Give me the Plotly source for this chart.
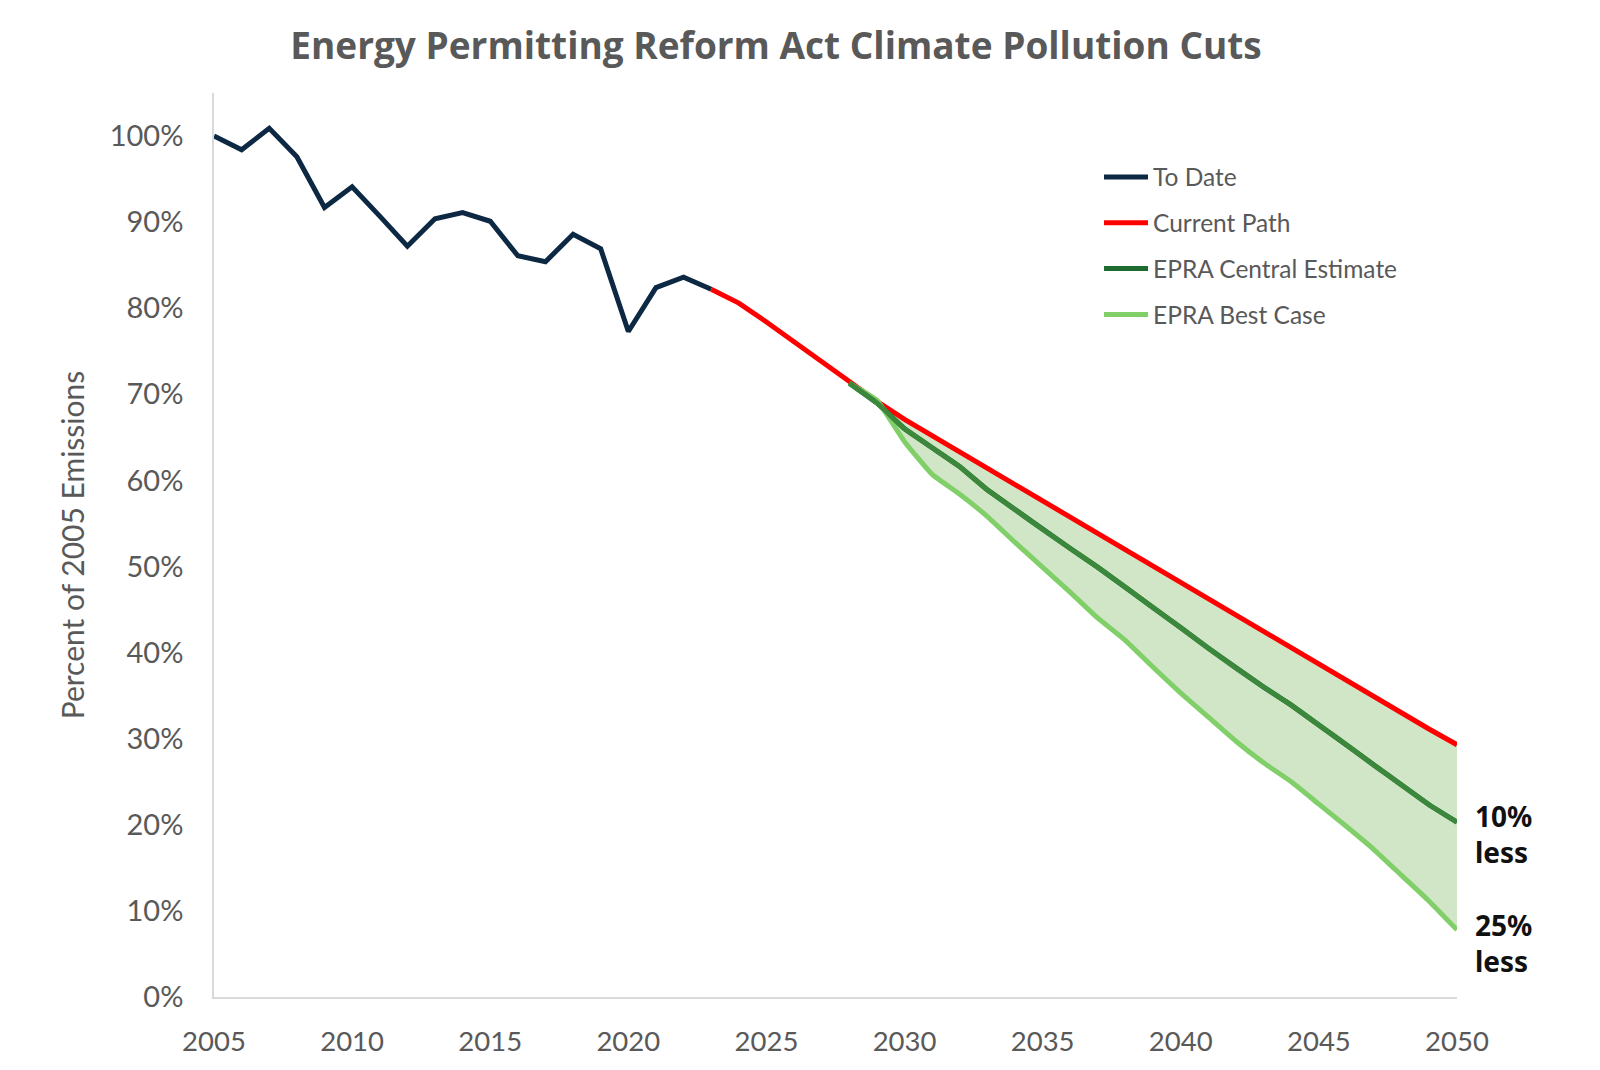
import plotly.graph_objects as go

# ---- data ----
years_hist = list(range(2005, 2024))
to_date = [100.0, 98.4, 100.9, 97.6, 91.7, 94.1, 90.7, 87.2, 90.4, 91.1,
           90.1, 86.1, 85.4, 88.6, 86.9, 77.3, 82.4, 83.6, 82.2]

years_path = list(range(2023, 2051))
current_path = [82.2, 80.6, 78.4, 76.1, 73.8, 71.5, 69.2, 67.1, 65.2, 63.3,
                61.4, 59.5, 57.6, 55.7, 53.8, 51.9, 50.0, 48.1, 46.2, 44.3,
                42.4, 40.5, 38.6, 36.7, 34.8, 32.9, 31.1, 29.3]

years_epra = list(range(2028, 2051))
central = [71.3, 69.0, 66.0, 63.8, 61.6, 58.9, 56.6, 54.3, 52.1, 49.9,
           47.6, 45.2, 42.9, 40.5, 38.2, 36.0, 33.9, 31.6, 29.3, 26.9,
           24.6, 22.3, 20.3]
best_case = [71.3, 69.3, 64.5, 60.7, 58.4, 55.8, 52.8, 49.9, 47.0, 44.0,
             41.4, 38.3, 35.3, 32.5, 29.7, 27.2, 25.0, 22.4, 19.8, 17.1,
             14.1, 11.1, 7.8]

y_ticks = [0, 10, 20, 30, 40, 50, 60, 70, 80, 90, 100]
x_ticks = [2005, 2010, 2015, 2020, 2025, 2030, 2035, 2040, 2045, 2050]

notes = [("10%<br>less", 18.9), ("25%<br>less", 6.3)]

GRAY = "#595959"
AXIS = "#d9d9d9"
FONT = "Lato, 'Source Sans Pro', 'Noto Sans', sans-serif"

def pct(vals):
    return [v / 100 for v in vals]

# path values on the EPRA years, for the shaded band
path_on_epra = [current_path[years_path.index(y)] for y in years_epra]

fig = go.Figure()

# shaded band (lower edge then upper edge)
fig.add_trace(go.Scatter(x=years_epra, y=pct(best_case), mode="lines",
                         line=dict(color="rgba(180,180,60,0.9)", width=1),
                         showlegend=False, hoverinfo="skip"))
fig.add_trace(go.Scatter(x=years_epra, y=pct(path_on_epra), mode="lines",
                         line=dict(color="rgba(220,140,40,0.9)", width=1),
                         fill="tonexty", fillcolor="rgba(190,220,175,0.7)",
                         showlegend=False, hoverinfo="skip"))

fig.add_trace(go.Scatter(x=years_hist, y=pct(to_date), mode="lines",
                         name="To Date", legendgroup="a",
                         line=dict(color="#0d2843", width=5)))
fig.add_trace(go.Scatter(x=years_path, y=pct(current_path), mode="lines",
                         name="Current Path", legendgroup="b",
                         line=dict(color="#ff0000", width=5)))
fig.add_trace(go.Scatter(x=years_epra, y=pct(central), mode="lines",
                         name="EPRA Central Estimate", legendgroup="c",
                         line=dict(color="#1f6b2f", width=5)))
fig.add_trace(go.Scatter(x=years_epra, y=pct(best_case), mode="lines",
                         name="EPRA Best Case", legendgroup="d",
                         line=dict(color="#80cf69", width=5, shape="spline",
                                   smoothing=0.4)))
# central estimate drawn on top of best case
fig.add_trace(go.Scatter(x=years_epra, y=pct(central), mode="lines",
                         showlegend=False, hoverinfo="skip",
                         line=dict(color="#3b873b", width=5, shape="spline",
                                   smoothing=0.4)))

for text, yv in notes:
    fig.add_annotation(x=1.013, xref="paper", y=yv / 100, yref="y",
                       text=f"<b>{text}</b>", showarrow=False,
                       xanchor="left", yanchor="middle", align="left",
                       font=dict(family="'Noto Sans', Lato, sans-serif",
                                 size=28, color="#111111"))

fig.update_layout(
    width=1600, height=1070,
    margin=dict(l=214, r=143, t=93, b=73, autoexpand=False),
    plot_bgcolor="white", paper_bgcolor="white",
    title=dict(text="<b>Energy Permitting Reform Act Climate Pollution Cuts</b>",
               x=0.485, xanchor="center", y=0.957, yanchor="middle",
               font=dict(family="'Open Sans', sans-serif", size=37, color=GRAY)),
    font=dict(family=FONT, color=GRAY),
    legend=dict(x=0.712, y=0.932, xanchor="left", yanchor="top",
                font=dict(size=24.5, color=GRAY, family=FONT),
                traceorder="grouped", tracegroupgap=11,
                itemwidth=44, bgcolor="rgba(0,0,0,0)"),
    showlegend=True,
)

fig.update_xaxes(range=[2005, 2050], tickvals=x_ticks,
                 ticktext=[str(t) for t in x_ticks],
                 showgrid=False, zeroline=False, showline=True,
                 linecolor=AXIS, linewidth=1.5, ticks="",
                 automargin=False,
                 ticklabelstandoff=19,
                 tickfont=dict(size=27.5, color=GRAY, family=FONT))
fig.update_yaxes(range=[0, 1.05], tickvals=[t / 100 for t in y_ticks],
                 ticktext=[f"{t}%" for t in y_ticks],
                 showgrid=False, zeroline=False, showline=True,
                 linecolor=AXIS, linewidth=1.5, ticks="",
                 automargin=False,
                 ticklabelstandoff=23,
                 tickfont=dict(size=29, color=GRAY, family=FONT),
                 title=dict(text="Percent of 2005 Emissions", standoff=16,
                            font=dict(size=30, color=GRAY, family=FONT)))

fig.write_html("out.html")
